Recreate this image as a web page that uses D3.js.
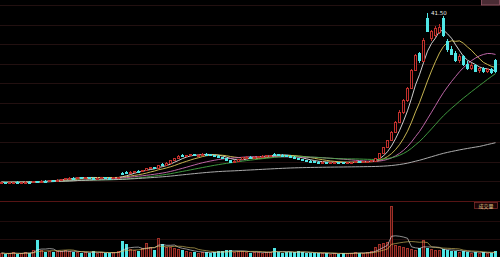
<!DOCTYPE html>
<html>
<head>
<meta charset="utf-8">
<script src="https://cdn.jsdelivr.net/npm/d3@7"></script>
<style>
  html, body { margin: 0; padding: 0; background: #000; }
  svg { display: block; }
</style>
</head>
<body>
<svg id="chart" width="500" height="257"></svg>
<script>
// daily bars, oldest first
var opens = [5.90,5.95,5.88,5.92,6.00,5.94,5.98,6.08,6.00,6.12,
  6.05,6.25,6.20,6.40,6.30,6.50,6.62,6.82,6.90,6.80,
  7.00,6.90,7.02,6.92,6.82,6.92,7.00,6.90,6.84,6.94,
  7.90,8.10,7.92,8.18,8.28,8.25,8.52,8.90,9.10,8.98,
  9.75,9.50,10.02,10.60,11.00,11.70,11.45,11.62,11.80,11.66,
  11.74,11.92,11.80,11.62,11.50,11.25,11.00,10.62,10.22,10.42,
  10.80,11.18,11.30,11.20,11.32,11.42,11.50,11.60,11.92,11.76,
  11.70,11.60,11.48,11.30,11.05,10.82,10.62,10.44,10.32,10.22,
  10.12,10.24,10.04,10.14,10.20,10.10,10.00,10.12,10.20,10.30,
  10.20,10.30,10.40,10.52,11.05,12.05,13.30,14.80,16.50,18.60,
  20.70,23.20,25.70,29.50,33.00,31.40,40.50,36.20,37.00,37.60,
  40.40,35.60,34.00,33.00,31.60,32.40,30.80,30.00,30.60,29.40,
  29.90,29.20,29.70,31.60];

var highs = [6.00,6.05,5.98,6.05,6.10,6.02,6.12,6.15,6.18,6.20,
  6.30,6.35,6.45,6.48,6.55,6.70,6.88,6.95,6.96,7.05,
  7.08,7.05,7.08,6.98,6.96,7.06,7.04,6.95,6.98,7.06,
  8.05,8.20,8.25,8.35,8.40,8.60,8.98,9.20,9.15,9.65,
  9.90,10.10,10.70,11.10,11.55,11.85,11.70,11.85,11.90,11.80,
  11.98,12.00,11.88,11.70,11.58,11.30,11.05,10.70,10.50,10.85,
  11.25,11.40,11.35,11.38,11.48,11.55,11.66,11.75,11.98,11.82,
  11.78,11.66,11.55,11.36,11.12,10.90,10.70,10.52,10.40,10.30,
  10.30,10.28,10.20,10.26,10.24,10.15,10.16,10.25,10.36,10.34,
  10.36,10.46,10.58,11.10,12.10,13.35,14.85,16.60,18.80,21.00,
  23.40,25.90,29.80,32.90,33.20,36.20,41.50,38.00,38.80,39.20,
  40.80,36.00,34.60,33.40,32.80,32.60,31.40,31.00,30.80,30.20,
  30.20,30.00,30.00,31.90];

var lows = [5.80,5.85,5.78,5.85,5.90,5.86,5.92,5.96,5.98,6.00,
  6.02,6.15,6.18,6.25,6.28,6.45,6.60,6.75,6.75,6.78,
  6.85,6.88,6.86,6.76,6.78,6.88,6.85,6.78,6.80,6.90,
  7.50,7.80,7.88,8.05,8.15,8.22,8.48,8.80,8.90,8.95,
  9.40,9.45,9.98,10.50,10.90,11.35,11.40,11.55,11.60,11.58,
  11.70,11.72,11.58,11.45,11.20,10.90,10.55,10.10,10.15,10.38,
  10.75,11.10,11.12,11.15,11.25,11.35,11.44,11.52,11.70,11.62,
  11.55,11.42,11.25,11.00,10.75,10.55,10.38,10.25,10.15,10.05,
  10.08,10.00,10.00,10.08,10.05,9.95,9.96,10.08,10.15,10.14,
  10.16,10.25,10.35,10.50,11.00,12.00,13.25,14.70,16.20,18.30,
  20.30,22.80,25.50,29.20,31.00,31.20,37.40,35.50,36.40,37.00,
  36.50,33.20,32.60,31.20,31.00,30.40,29.60,29.40,29.00,28.80,
  28.90,28.80,28.70,28.90];

var closes = [5.95,5.88,5.92,6.00,5.94,5.98,6.08,6.00,6.12,6.05,
  6.25,6.20,6.40,6.30,6.50,6.62,6.82,6.90,6.80,7.00,
  6.90,7.02,6.92,6.82,6.92,7.00,6.90,6.84,6.94,7.02,
  7.70,7.92,8.18,8.28,8.25,8.52,8.90,9.10,8.98,9.58,
  9.50,10.02,10.60,11.00,11.40,11.45,11.62,11.80,11.66,11.74,
  11.92,11.80,11.62,11.50,11.25,11.00,10.62,10.22,10.42,10.80,
  11.18,11.30,11.20,11.32,11.42,11.50,11.60,11.70,11.76,11.70,
  11.60,11.48,11.30,11.05,10.82,10.62,10.44,10.32,10.22,10.12,
  10.24,10.04,10.14,10.20,10.10,10.00,10.12,10.20,10.30,10.20,
  10.30,10.40,10.52,11.05,12.05,13.30,14.80,16.50,18.60,20.70,
  23.20,25.70,29.50,32.70,31.50,35.80,37.80,37.60,38.40,38.60,
  36.90,34.00,33.00,31.60,32.40,30.80,30.00,30.60,29.40,29.90,
  29.20,29.70,29.00,29.20];

var volumes = [8,6,7,9,6,7,10,7,14,33,
  14,10,12,9,11,12,14,11,9,10,
  8,10,8,11,8,9,7,8,9,11,
  31,26,15,13,12,18,27,20,14,37,
  25,19,20,17,15,14,12,10,9,8,
  10,9,8,9,11,12,13,14,10,11,
  12,10,8,9,10,8,9,10,17,9,
  8,9,10,9,11,9,8,7,8,7,
  8,7,6,7,6,8,7,8,9,8,
  8,9,11,20,26,28,30,100,24,22,
  20,18,16,14,17,34,18,15,14,13,
  16,14,12,11,10,12,9,8,10,8,
  9,8,7,11];

var priceMaPeriods = [5, 10, 20, 30, 120];
var volumeMaPeriods = [5, 10];
var volumeLabel = '成交量';

var priceMaColors = ['#e6e6e6', '#dcc85a', '#d070b8', '#46a846', '#bdbdbd'];
var volumeMaColors = ['#e0e0e0', '#d8c060'];
var upColor = '#c0302c';
var downColor = '#4fe6e6';

function movingAverage(values, n) {
    return values.map(function(v, i) {
        return d3.mean(values.slice(Math.max(0, i - n + 1), i + 1));
    });
}

var svg = d3.select('#chart');
var idx = d3.range(closes.length);

var x = d3.scaleBand().domain(idx).range([0, 497]).paddingInner(0.3);
var yPrice = d3.scaleLinear().domain([2.2, 44.2]).range([200, 0]);
var yVol = d3.scaleLinear().domain([0, 110]).range([257, 201]);
var gridRow = d3.scaleLinear().domain([0, 10]).range([5, 201]);

var bw = Math.max(1, Math.round(x.bandwidth()));
function left(i) { return Math.round(x(i)); }
function mid(i) { return left(i) + bw / 2; }
function isUp(i) { return closes[i] >= opens[i]; }

svg.append('rect').attr('width', 500).attr('height', 257).attr('fill', '#000');

// grid
var gridG = svg.append('g').attr('shape-rendering', 'crispEdges');
gridG.selectAll('line.row')
    .data(d3.range(0, 10))
    .join('line')
    .attr('class', 'row')
    .attr('x1', 0).attr('x2', 500)
    .attr('y1', function(k) { return Math.round(gridRow(k)) + 0.5; })
    .attr('y2', function(k) { return Math.round(gridRow(k)) + 0.5; })
    .attr('stroke', '#221010');
gridG.selectAll('line.vol')
    .data([35, 70])
    .join('line')
    .attr('class', 'vol')
    .attr('x1', 0).attr('x2', 500)
    .attr('y1', function(v) { return Math.round(yVol(v)) + 0.5; })
    .attr('y2', function(v) { return Math.round(yVol(v)) + 0.5; })
    .attr('stroke', '#200c0c');
gridG.append('line')
    .attr('x1', 0).attr('x2', 500)
    .attr('y1', Math.round(yVol(110)) + 0.5).attr('y2', Math.round(yVol(110)) + 0.5)
    .attr('stroke', '#561414');

// moving averages behind candles
var priceLine = d3.line()
    .x(function(d, i) { return mid(i); })
    .y(function(d) { return yPrice(d); });
svg.append('g').selectAll('path')
    .data(priceMaPeriods)
    .join('path')
    .attr('d', function(n) { return priceLine(movingAverage(closes, n)); })
    .attr('fill', 'none')
    .attr('stroke', function(n, k) { return priceMaColors[k]; })
    .attr('stroke-width', 0.9);

// candles: hollow red up, solid cyan down
var candleG = svg.append('g').attr('shape-rendering', 'crispEdges');
candleG.selectAll('line')
    .data(idx)
    .join('line')
    .attr('x1', function(i) { return left(i) + Math.floor(bw / 2) + 0.5; })
    .attr('x2', function(i) { return left(i) + Math.floor(bw / 2) + 0.5; })
    .attr('y1', function(i) { return yPrice(highs[i]); })
    .attr('y2', function(i) { return yPrice(lows[i]); })
    .attr('stroke', function(i) { return isUp(i) ? upColor : downColor; });
candleG.selectAll('rect')
    .data(idx)
    .join('rect')
    .attr('x', function(i) { return left(i) + 0.5; })
    .attr('width', bw - 1)
    .attr('y', function(i) { return Math.round(yPrice(Math.max(opens[i], closes[i]))) + 0.5; })
    .attr('height', function(i) {
        return Math.max(0.5, Math.round(Math.abs(yPrice(opens[i]) - yPrice(closes[i]))));
    })
    .attr('fill', function(i) { return isUp(i) ? '#000' : downColor; })
    .attr('stroke', function(i) { return isUp(i) ? upColor : downColor; });

// highest price marker
var peak = d3.maxIndex(highs);
svg.append('text')
    .attr('x', left(peak) + bw + 2)
    .attr('y', yPrice(highs[peak]) + 2)
    .attr('font-family', 'DejaVu Sans, sans-serif')
    .attr('font-size', 5.5)
    .attr('fill', '#e8e8e8')
    .text(highs[peak].toFixed(2));

// volume
var volG = svg.append('g').attr('shape-rendering', 'crispEdges');
volG.selectAll('rect')
    .data(idx)
    .join('rect')
    .attr('x', function(i) { return left(i) + 0.5; })
    .attr('width', bw - 1)
    .attr('y', function(i) { return Math.round(yVol(volumes[i])) + 0.5; })
    .attr('height', function(i) { return Math.round(yVol(0) - yVol(volumes[i])); })
    .attr('fill', function(i) { return isUp(i) ? '#3a0e0c' : downColor; })
    .attr('stroke', function(i) { return isUp(i) ? '#a03028' : downColor; });

var volLine = d3.line()
    .x(function(d, i) { return mid(i); })
    .y(function(d) { return yVol(d); });
svg.append('g').selectAll('path')
    .data(volumeMaPeriods)
    .join('path')
    .attr('d', function(n) { return volLine(movingAverage(volumes, n)); })
    .attr('fill', 'none')
    .attr('stroke', function(n, k) { return volumeMaColors[k]; })
    .attr('stroke-width', 0.8)
    .attr('opacity', 0.8);

// panel labels
svg.append('rect')
    .attr('x', 474.5).attr('y', 202.5)
    .attr('width', 23).attr('height', 6)
    .attr('fill', '#1a0505')
    .attr('stroke', '#7a2a2a')
    .attr('stroke-width', 0.8);
svg.append('text')
    .attr('x', 486).attr('y', 207.6)
    .attr('text-anchor', 'middle')
    .attr('font-family', 'Noto Sans CJK SC, sans-serif')
    .attr('font-size', 5)
    .attr('fill', '#e0c890')
    .text(volumeLabel);

svg.append('rect')
    .attr('x', 481.5).attr('y', -1)
    .attr('width', 18).attr('height', 6)
    .attr('fill', '#4a2c34')
    .attr('stroke', '#9a5a6a')
    .attr('stroke-width', 0.8);
</script>
</body>
</html>
